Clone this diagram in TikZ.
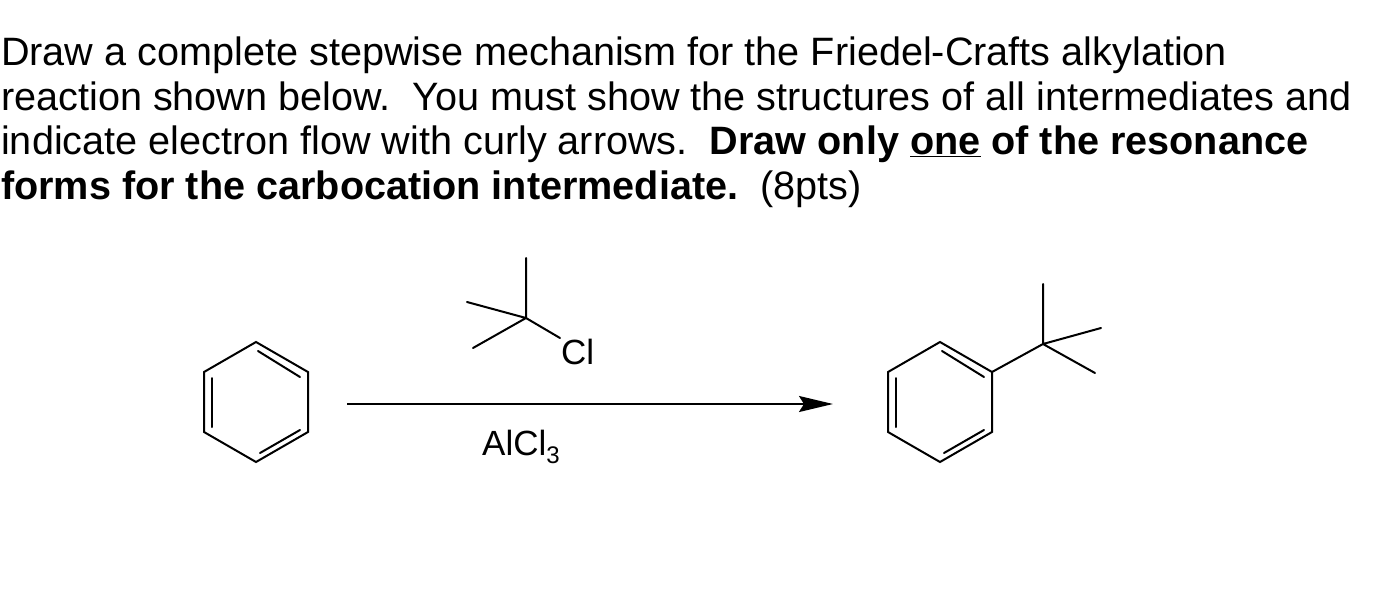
\documentclass[tikz,border=0pt]{standalone}
\usepackage{fontspec}
\setmainfont{Liberation Sans}
\usetikzlibrary{arrows.meta}
\begin{document}
\begin{tikzpicture}[x=1pt,y=-1pt,
  bond/.style={line width=2pt,line cap=round,line join=miter},
  txt/.style={anchor=base west,inner sep=0pt,font=\fontsize{39.6}{46}\selectfont},
  lbl/.style={inner sep=0pt,font=\fontsize{35}{40}\selectfont}]
\useasboundingbox (0,0) rectangle (1392,595);
\node[txt] (l1) at (1,65) {Draw a complete stepwise mechanism for the Friedel-Crafts alkylation};
\node[txt] (l2) at (1,110) {reaction shown below.\ \ You must show the structures of all intermediates and};
\node[txt] (l3) at (1,154) {indicate electron flow with curly arrows.\ \ \textbf{Draw only \underline{one} of the resonance}};
\node[txt] (l4) at (1,199) {\textbf{forms for the carbocation intermediate.}\ \ (8pts)};
\foreach \cx/\cy/\n in {256/402/A, 940/402/B}{
  \begin{scope}[shift={(\cx,\cy)}]
  \coordinate (\n1) at (0,-60); \coordinate (\n2) at (52,-30); \coordinate (\n3) at (52,30);
  \coordinate (\n4) at (0,60); \coordinate (\n5) at (-52,30); \coordinate (\n6) at (-52,-30);
  \draw[bond] (\n1)--(\n2)--(\n3)--(\n4)--(\n5)--(\n6)--cycle;
  \draw[bond] (2,-51) -- (44,-25);
  \draw[bond] (-44,-24) -- (-44,25);
  \draw[bond] (4,51) -- (44,28);
  \end{scope}}
% tert-butyl chloride
\coordinate (c1) at (526,318);
\coordinate (m1) at (526,258);
\coordinate (m2) at (467,302);
\coordinate (m3) at (473,348);
\coordinate (clb) at (560,338);
\node[lbl,anchor=base west] (cl) at (561,364) {Cl};
\draw[bond] (m1)--(c1)--(m2) (m3)--(c1)--(clb);
% arrow
\coordinate (a0) at (347,404);
\coordinate (a1) at (833,404);
\draw[line width=2pt,-{Stealth[length=34pt,width=16pt,inset=5pt]}] (a0)--(a1);
\node[lbl,anchor=base west] (alcl) at (482,455) {AlCl\raisebox{-8pt}{\fontsize{24}{28}\selectfont 3}};
% product tBu
\coordinate (c2) at (1043,344);
\coordinate (n1) at (1043,284);
\coordinate (n2) at (1101,328);
\coordinate (n3) at (1095,373);
\draw[bond] (B2)--(c2)--(n1) (c2)--(n2) (c2)--(n3);
\end{tikzpicture}
\end{document}
